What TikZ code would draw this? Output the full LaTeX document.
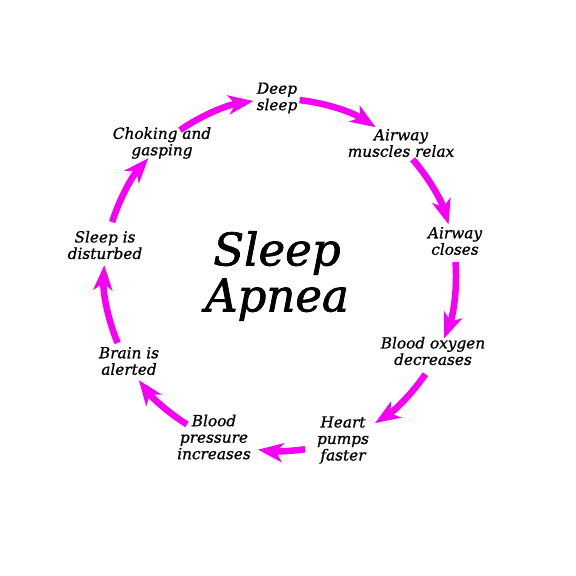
\documentclass[tikz,border=0pt]{standalone}
\usepackage{fontspec}
\setmainfont{DejaVu Serif}
\newfontfamily\lblfont{DejaVu Serif}[FakeBold=0.9]
\newfontfamily\ttlfont{DejaVu Serif}[FakeBold=1.6]
\usetikzlibrary{arrows.meta,calc}
\definecolor{mag}{RGB}{245,0,245}
\tikzset{
  lbl/.style={align=center, inner sep=0pt, font=\lblfont\itshape\fontsize{15.3}{16.5}\selectfont},
  ttl/.style={align=center, inner sep=0pt, font=\ttlfont\itshape\fontsize{45}{46}\selectfont},
  arr/.style={draw=mag, line width=6.5pt, -{Stealth[length=25pt,width=19pt,inset=7pt]}}
}
\begin{document}
\begin{tikzpicture}[x=1pt,y=1pt]
\useasboundingbox (0,0) rectangle (576,576);
\fill[white] (0,0) rectangle (576,576);
\coordinate (C) at (280,301);
\node[lbl] (deep) at (277,478) {Deep\\sleep};
\node[lbl] (relax) at (401,433) {Airway\\muscles relax};
\node[lbl] (closes) at (455,335) {Airway\\closes};
\node[lbl] (oxygen) at (433,225) {Blood oxygen\\decreases};
\node[lbl] (heart) at (343,136) {Heart\\pumps\\faster};
\node[lbl] (pressure) at (214,139) {Blood\\pressure\\increases};
\node[lbl] (brain) at (129,215) {Brain is\\alerted};
\node[lbl] (disturbed) at (105,331) {Sleep is\\disturbed};
\node[lbl] (choking) at (162,433) {Choking and\\gasping};
\node[ttl] (title) at (277,300) {Sleep\\Apnea};
\draw[arr] (C) ++(124.6:176) arc[start angle=124.6, end angle=98.7, radius=176];
\draw[arr] (C) ++(83.6:176) arc[start angle=83.6, end angle=57.1, radius=176];
\draw[arr] (C) ++(41.1:176) arc[start angle=41.1, end angle=16.7, radius=176];
\draw[arr] (C) ++(4.2:176) arc[start angle=4.2, end angle=-21.1, radius=176];
\draw[arr] (C) ++(-34.3:176) arc[start angle=-34.3, end angle=-57.3, radius=176];
\draw[arr] (C) ++(-81.8:176) arc[start angle=-81.8, end angle=-97.2, radius=176];
\draw[arr] (C) ++(-121.9:176) arc[start angle=-121.9, end angle=-143.3, radius=176];
\draw[arr] (C) ++(202.7:176) arc[start angle=202.7, end angle=176.8, radius=176];
\draw[arr] (C) ++(162.5:176) arc[start angle=162.5, end angle=138.4, radius=176];
\end{tikzpicture}
\end{document}
